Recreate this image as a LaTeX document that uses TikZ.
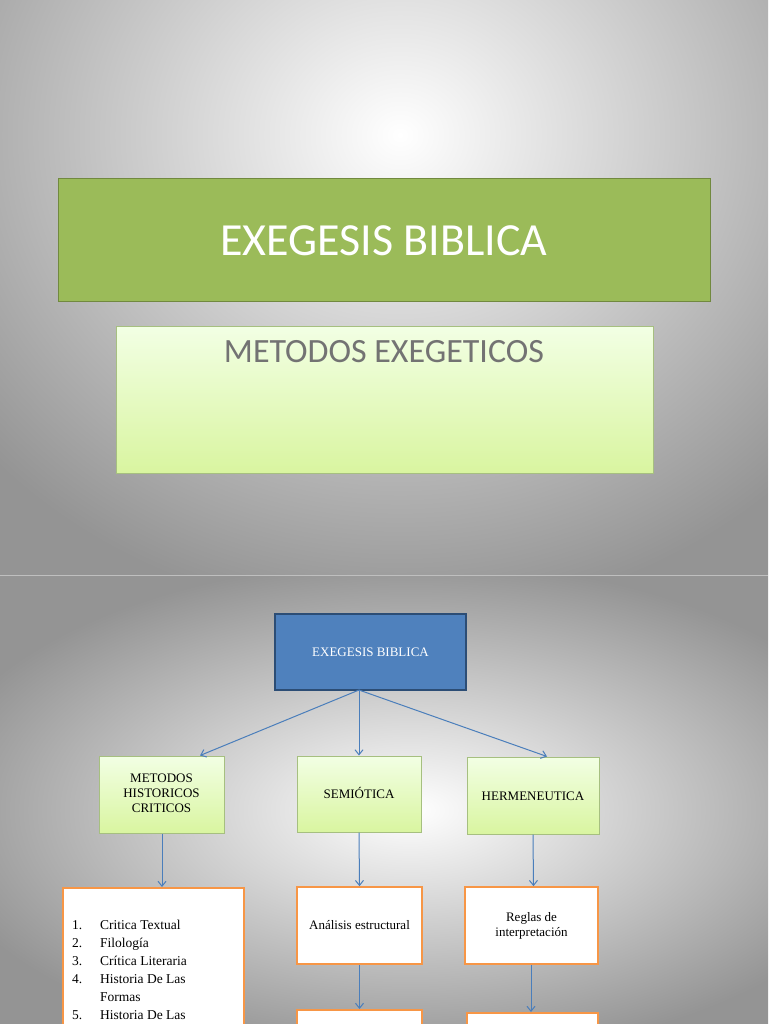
\documentclass[tikz,border=0pt]{standalone}
\usepackage{fontspec}
\setmainfont{Liberation Serif}
\newfontfamily\carfont{Carlito}
\usetikzlibrary{arrows.meta}
\definecolor{tgreen}{HTML}{9BBB59}
\definecolor{tgreenb}{HTML}{71893F}
\definecolor{lgtop}{HTML}{F2FFE4}
\definecolor{lgbot}{HTML}{D9F5A0}
\definecolor{lgb}{HTML}{A6BF80}
\definecolor{blu}{HTML}{4F81BD}
\definecolor{blub}{HTML}{2C4D75}
\definecolor{org}{HTML}{F79646}
\definecolor{arr}{HTML}{4A7EBB}
\tikzset{
 lgbox/.style={draw=lgb,line width=1pt,top color=lgtop,bottom color=lgbot},
 obox/.style={draw=org,line width=1.6pt,fill=white},
 con/.style={arr,line width=1pt,-{Straight Barb[length=5pt,width=8pt]}},
 lbl/.style={font=\fontsize{13}{15}\selectfont,align=center,text=black}
}
\begin{document}
\begin{tikzpicture}[x=1pt,y=-1pt]
\useasboundingbox (0,0) rectangle (768,1024);
\begin{scope}
\clip (0,0) rectangle (768,575);
\shade[inner color=white,outer color=black!42] (-150,-350) rectangle (950,620);
\end{scope}
\begin{scope}
\clip (0,576) rectangle (768,1024);
\shade[inner color=white,outer color=black!42] (-80,560) rectangle (900,1060);
\end{scope}
\draw[black!25] (0,575.5) -- (768,575.5);
% top slide
\node[draw=tgreenb,line width=1pt,fill=tgreen,minimum width=652,minimum height=122,inner sep=0] (title) at (384,240) {};
\node[text=white,font=\carfont\fontsize{46}{52}\selectfont] (titlet) at (384,241) {EXEGESIS BIBLICA};
\node[lgbox,minimum width=537,minimum height=147,inner sep=0] (sub) at (384.5,399.5) {};
\node[text=black!55,font=\carfont\fontsize{34}{40}\selectfont] (subt) at (384,352) {METODOS EXEGETICOS};
% bottom slide
\node[draw=blub,line width=1.2pt,fill=blu,minimum width=191,minimum height=76,inner sep=0,text=white,font=\fontsize{13}{15}\selectfont] (root) at (370.5,652) {EXEGESIS BIBLICA};
\node[lgbox,minimum width=125,minimum height=77,inner sep=0] (m1) at (161.5,794.5) {};
\node[lbl] at (161.5,793) {METODOS\\HISTORICOS\\CRITICOS};
\node[lgbox,minimum width=124,minimum height=76,inner sep=0] (m2) at (359,794) {};
\node[lbl] at (359,793) {SEMIÓTICA};
\node[lgbox,minimum width=132,minimum height=77,inner sep=0] (m3) at (533,795.5) {};
\node[lbl] at (533,796) {HERMENEUTICA};
\node[obox,minimum width=181,minimum height=150,inner sep=0,anchor=north] (o1) at (153.5,887) {};
\node[obox,minimum width=125,minimum height=77,inner sep=0] (o2) at (359.5,925.5) {};
\node[lbl] at (359.5,925) {Análisis estructural};
\node[obox,minimum width=133,minimum height=77,inner sep=0] (o3) at (531.5,925.5) {};
\node[lbl] at (531.5,926) {Reglas de\\interpretación};
\node[obox,minimum width=125,minimum height=60,inner sep=0,anchor=north] (o4) at (359.5,1009) {};
\node[obox,minimum width=131,minimum height=60,inner sep=0,anchor=north] (o5) at (532.5,1012) {};
\begin{scope}[font=\fontsize{13.5}{15}\selectfont,anchor=base west,inner xsep=0]
\node at (72,929) {1.}; \node at (100,929) {Critica Textual};
\node at (72,947) {2.}; \node at (100,947) {Filología};
\node at (72,965) {3.}; \node at (100,965) {Crítica Literaria};
\node at (72,983) {4.}; \node at (100,983) {Historia De Las};
\node at (100,1001) {Formas};
\node at (72,1019) {5.}; \node at (100,1019) {Historia De Las};
\end{scope}
% connectors
\coordinate (rb) at (359,690);
\draw[con] (rb) -- (m1.north -| 200,0);
\draw[con] (rb) -- (m2.north);
\draw[con] (rb) -- (m3.north -| 547,0);
\draw[con] (m1.south -| 162,0) -- (o1.north -| 162,0);
\draw[con] (m2.south) -- (o2.north);
\draw[con] (m3.south) -- (o3.north -| 533.5,0);
\draw[con] (o2.south) -- (o4.north);
\draw[con] (o3.south -| 531,0) -- (o5.north -| 531,0);
\end{tikzpicture}
\end{document}
